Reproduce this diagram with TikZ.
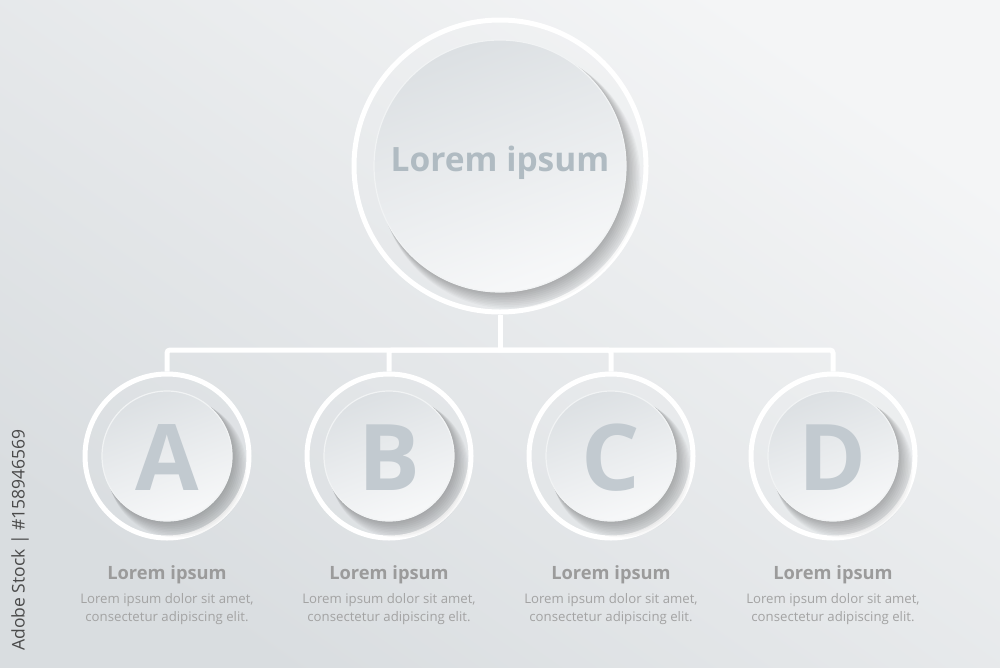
\documentclass[tikz,border=0pt]{standalone}
\usepackage{fontspec}
\setmainfont{Open Sans}
\usetikzlibrary{calc}
\definecolor{bgA}{HTML}{F4F5F6}
\definecolor{bgB}{HTML}{D9DDE0}
\definecolor{discTop}{HTML}{DCE0E3}
\definecolor{discBot}{HTML}{F7F8F9}
\definecolor{letterC}{HTML}{C2CAD0}
\definecolor{titleC}{HTML}{B0BBC2}
\definecolor{capC}{HTML}{9B9B9B}
\definecolor{bodyC}{HTML}{A3A3A3}
\definecolor{wmC}{HTML}{4A4A4A}
\tikzset{
  ringnode/.style={circle, draw=white, line width=5pt, inner sep=0pt},
  discnode/.style={circle, inner sep=0pt, top color=discTop, bottom color=discBot, shading angle=20, draw=white!60!discTop, line width=1.2pt},
  conn/.style={draw=white, line width=5pt, rounded corners=3pt},
  lettertext/.style={font=\fontsize{92}{92}\selectfont\bfseries, text=letterC},
  captext/.style={font=\fontsize{18.3}{20}\selectfont\bfseries, text=capC},
  bodytext/.style={font=\fontsize{13.2}{18}\selectfont, text=bodyC, align=center},
}
\newcommand{\myshadow}[3]{%
  \foreach \i in {1,...,10}{
    \fill[black, opacity=0.026] ($(#1,#2)+(\i*1.0,\i*1.2)$) circle ({#3+\i*0.45});
  }%
}
\begin{document}
\begin{tikzpicture}[x=1pt,y=-1pt]
\useasboundingbox (0,0) rectangle (1000,667);
\shade[top color=bgA, bottom color=bgB, shading angle=-35] (0,0) rectangle (1000,667);

\coordinate (jn) at (500,350);

% top circle
\node[ringnode, minimum size=292pt] (topring) at (500,166) {};
\myshadow{500}{166}{126}
\node[discnode, minimum size=252pt] (topdisc) at (500,166) {};
\node[font=\fontsize{33.5}{33.5}\selectfont\bfseries, text=titleC] (toptitle) at (500,163) {Lorem ipsum};

% small circles
\foreach \n/\x/\L in {A/167/A, B/389/B, C/611/C, D/833/D}{
  \node[ringnode, minimum size=164pt] (ring\n) at (\x,456) {};
  \myshadow{\x}{456}{65}
  \node[discnode, minimum size=130pt] (disc\n) at (\x,456) {};
  \node[lettertext] (let\n) at (\x,458) {\L};
}

\draw[conn] (topring.south) -- (jn);
\draw[conn] (ringA.north) |- (jn) -| (ringD.north);
\draw[conn] (jn) -| (ringB.north);
\draw[conn] (jn) -| (ringC.north);

% captions
\foreach \n/\x in {A/167, B/389, C/611, D/833}{
  \node[captext] (cap\n) at (\x,575) {Lorem ipsum};
  \node[bodytext] (body\n) at (\x,609) {Lorem ipsum dolor sit amet,\\consectetur adipiscing elit.};
}

% vertical watermark
\node[rotate=90, font=\fontsize{17.5}{17.5}\selectfont, text=wmC] (wm) at (20,540) {Adobe Stock | \#158946569};
\end{tikzpicture}
\end{document}
